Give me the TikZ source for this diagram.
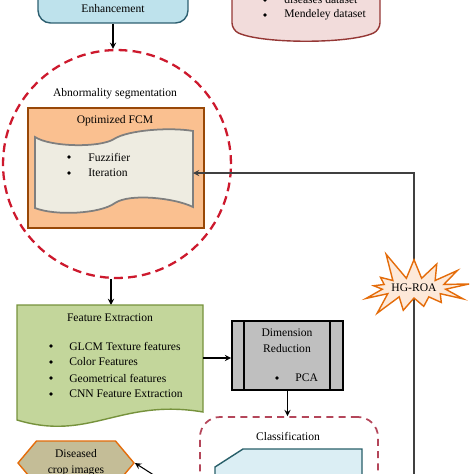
\documentclass[tikz,border=0pt]{standalone}
\usepackage{fontspec}
\setmainfont{Liberation Serif}
\usetikzlibrary{shapes.geometric,shapes.symbols}
\definecolor{enhfill}{RGB}{190,226,236}
\definecolor{enhline}{RGB}{45,95,112}
\definecolor{dsfill}{RGB}{242,220,219}
\definecolor{dsline}{RGB}{149,55,53}
\definecolor{segred}{RGB}{205,25,45}
\definecolor{fcmfill}{RGB}{250,192,144}
\definecolor{fcmline}{RGB}{152,72,7}
\definecolor{wavefill}{RGB}{238,236,225}
\definecolor{waveline}{RGB}{127,127,127}
\definecolor{fefill}{RGB}{195,214,155}
\definecolor{feline}{RGB}{118,146,60}
\definecolor{drfill}{RGB}{191,191,191}
\definecolor{clsred}{RGB}{180,70,90}
\definecolor{clsfill}{RGB}{219,238,244}
\definecolor{clsline}{RGB}{40,95,105}
\definecolor{hexfill}{RGB}{196,189,151}
\definecolor{hexline}{RGB}{228,108,10}
\definecolor{starfill}{RGB}{253,233,217}
\definecolor{fbline}{RGB}{64,64,64}
\tikzset{
  txt/.style={font=\fontsize{6.6}{9}\selectfont, inner sep=0pt},
  dot/.style={circle, fill=black, inner sep=0pt, minimum size=0.075cm},
  arr/.style={draw=black, line width=0.6pt, -stealth},
}

\begin{document}
\begin{tikzpicture}[x=0.02cm,y=-0.02cm]
\useasboundingbox (0,0) rectangle (474,474);
\clip (0,0) rectangle (474,474);
\node[draw=enhline, fill=enhfill, rounded corners=0.25cm, line width=0.8pt, minimum width=3cm, minimum height=1.2cm] (enh) at (113,-7) {};
\node[txt] (enhtxt) at (113,9) {Enhancement};
\draw[fill=dsfill, draw=dsline, line width=0.8pt, rounded corners=4pt] (232,-30) -- (232,30) .. controls (262,44) and (350,44) .. (380,30) -- (380,-30);
\node[dot] (ds1b) at (265,0) {}; \node[txt,anchor=west] (ds1) at (284,0) {diseases dataset};
\node[dot] (ds2b) at (265,15) {}; \node[txt,anchor=west] (ds2) at (284,15) {Mendeley dataset};

\node[circle, draw=segred, line width=1.3pt, dash pattern=on 5pt off 3pt, minimum size=4.56cm] (seg) at (117,164) {};
\node[txt] (segtxt) at (115,94) {Abnormality segmentation};
\node[draw=fcmline, fill=fcmfill, line width=0.8pt, minimum width=3.52cm, minimum height=2.4cm] (fcm) at (116,168) {};
\node[txt] (fcmtxt) at (115,121) {Optimized FCM};
\draw[fill=wavefill, draw=waveline, line width=1pt] (35,137) .. controls (50,147) and (100,148) .. (114,139) .. controls (128,130) and (170,127) .. (193,131) -- (193,207) .. controls (175,198) and (130,193) .. (115,203) .. controls (100,214) and (55,216) .. (35,208) -- cycle;
\node[dot] (fzb) at (69,157) {}; \node[txt,anchor=west] (fz) at (88,157) {Fuzzifier};
\node[dot] (itb) at (69,173) {}; \node[txt,anchor=west] (it) at (88,173) {Iteration};

\coordinate (fbin) at (193,173);
\coordinate (fbbot) at (414,480);
\draw[draw=fbline, line width=0.6pt, -stealth] (fbbot) -- (fbbot |- fbin) -- (fbin);
\node[txt, starburst, starburst points=13, starburst point height=0.6cm, random starburst=5, draw=hexline, fill=starfill, line width=0.8pt, minimum width=2.35cm, minimum height=1.6cm] (hg) at (414,288) {HG-ROA};

\draw[arr] (enh.south) -- (enh.south |- seg.north);
\coordinate (fetop) at (111,305);
\draw[arr] (fetop |- seg.south) -- (fetop);

\draw[fill=fefill, draw=feline, line width=0.8pt] (17,305) -- (203,305) -- (203,412) .. controls (120,398) and (90,442) .. (17,420) -- cycle;
\node[txt] (fetxt) at (110,318) {Feature Extraction};
\foreach \y/\t in {346/GLCM Texture features, 362/Color Features, 378/Geometrical features, 394/CNN Feature Extraction}
  {\node[dot] (feb\y) at (51,\y) {}; \node[txt,anchor=west] (fe\y) at (69,\y) {\t};}

\coordinate (feout) at (203,358);
\node[draw=black, fill=drfill, line width=1pt, minimum width=2.22cm, minimum height=1.38cm] (dr) at (287.5,355.5) {};
\draw[line width=1pt] ([xshift=0.26cm]dr.north west) -- ([xshift=0.26cm]dr.south west) ([xshift=-0.28cm]dr.north east) -- ([xshift=-0.28cm]dr.south east);
\draw[arr] (feout) -- (feout -| dr.west);
\node[txt, align=center] (drtxt) at (287,341) {Dimension\\Reduction};
\node[dot] (pcab) at (277,378) {}; \node[txt,anchor=west] (pca) at (295,378) {PCA};

\node[draw=clsred, line width=1pt, dash pattern=on 4pt off 3pt, rounded corners=0.4cm, minimum width=3.56cm, minimum height=2.6cm] (cls) at (289,482) {};
\draw[arr] (dr.south) -- (dr.south |- cls.north);
\node[txt] (clstxt) at (288,436) {Classification};
\draw[fill=clsfill, draw=clsline, line width=0.8pt] (215,540) -- (215,467) -- (243,449) -- (362,449) -- (362,540);

\node[txt, signal, signal to=west and east, signal pointer angle=100, draw=hexline, fill=hexfill, line width=0.8pt, minimum width=2.32cm, minimum height=0.88cm, align=center] (hex) at (76,463) {Diseased\\crop images};
\coordinate (hexsrc) at (160,479);
\draw[arr] (hexsrc) -- (hex.east);
\end{tikzpicture}
\end{document}
